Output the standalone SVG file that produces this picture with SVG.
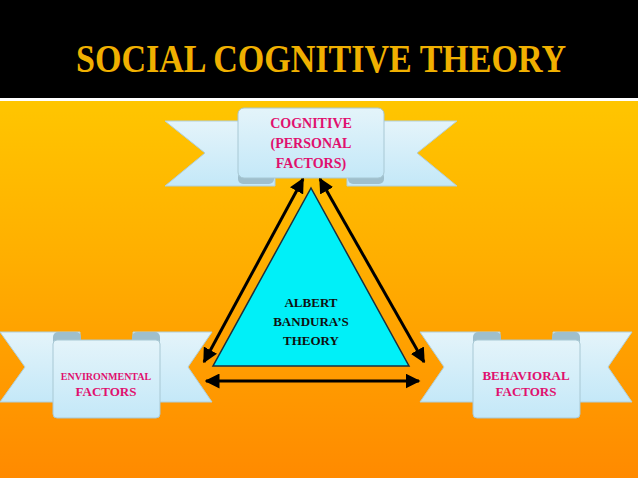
<svg xmlns="http://www.w3.org/2000/svg" width="638" height="478" viewBox="0 0 638 478">
<defs>
<linearGradient id="bg" x1="0" y1="0" x2="0" y2="1"><stop offset="0" stop-color="#ffd400"/><stop offset="0.55" stop-color="#ffae00"/><stop offset="1" stop-color="#ff8a00"/></linearGradient>
<linearGradient id="rib" x1="0" y1="0" x2="0" y2="1"><stop offset="0" stop-color="#e4f4fa"/><stop offset="1" stop-color="#c4e8f8"/></linearGradient>
<marker id="ah" viewBox="0 0 10 10" refX="9" refY="5" markerWidth="5" markerHeight="5" orient="auto-start-reverse"><path d="M0,0L10,5L0,10z" fill="#000"/></marker>
<style>
.w{fill:url(#rib);stroke:#b0d0dc;stroke-width:1}
.p{fill:url(#rib);stroke:#a8c8d4;stroke-width:1}
.c{fill:#9fbfcc}
.t{font-family:"Liberation Serif",serif;font-weight:bold;fill:#e0106e;text-anchor:middle}
.a{stroke:#000;stroke-width:3;fill:none;marker-start:url(#ah);marker-end:url(#ah)}
</style>
</defs>
<rect width="638" height="478" fill="url(#bg)"/>
<rect width="638" height="98" fill="#000"/>
<rect y="98" width="638" height="3" fill="#fff"/>
<text x="76" y="72" font-family="Liberation Serif,serif" font-weight="bold" font-size="39" fill="#f0b000" textLength="490" lengthAdjust="spacingAndGlyphs">SOCIAL COGNITIVE THEORY</text>
<g id="cognitive">
<path class="w" d="M165,121H275V186H165L205,153z"/>
<path class="w" d="M347,121H457L417,153L457,186H347z"/>
<rect class="c" x="238" y="172" width="36" height="12" rx="5"/>
<rect class="c" x="348" y="172" width="36" height="12" rx="5"/>
<rect class="p" x="238" y="108" width="146" height="70" rx="6"/>
<text class="t" font-size="14"><tspan x="311" y="128">COGNITIVE</tspan><tspan x="311" y="148">(PERSONAL</tspan><tspan x="311" y="168">FACTORS)</tspan></text>
</g>
<g id="environmental">
<path class="w" d="M0,332H80V402H0L25,367z"/>
<path class="w" d="M133,332H212L188,367L212,402H133z"/>
<rect class="c" x="53" y="332" width="28" height="14" rx="5"/>
<rect class="c" x="132" y="332" width="28" height="14" rx="5"/>
<rect class="p" x="53" y="340" width="107" height="78" rx="4"/>
<text class="t" font-size="10" x="106" y="380">ENVIRONMENTAL</text>
<text class="t" font-size="13" x="106" y="396">FACTORS</text>
</g>
<g id="behavioral">
<path class="w" d="M420,332H500V402H420L444,367z"/>
<path class="w" d="M553,332H632L608,367L632,402H553z"/>
<rect class="c" x="473" y="332" width="28" height="14" rx="5"/>
<rect class="c" x="552" y="332" width="28" height="14" rx="5"/>
<rect class="p" x="473" y="340" width="107" height="78" rx="4"/>
<text class="t" font-size="13"><tspan x="526" y="380">BEHAVIORAL</tspan><tspan x="526" y="396">FACTORS</tspan></text>
</g>
<g id="theory">
<path d="M311,188L409,366H213z" fill="#00f0f8" stroke="#1a3040" stroke-width="1.5"/>
<text font-family="Liberation Serif,serif" font-weight="bold" font-size="13" fill="#101010" text-anchor="middle"><tspan x="311" y="307">ALBERT</tspan><tspan x="311" y="326">BANDURA’S</tspan><tspan x="311" y="345">THEORY</tspan></text>
</g>
<g id="connectors">
<line class="a" x1="303" y1="179" x2="204" y2="362"/>
<line class="a" x1="320" y1="179" x2="424" y2="362"/>
<line class="a" x1="206" y1="381" x2="419" y2="381"/>
</g>
</svg>
